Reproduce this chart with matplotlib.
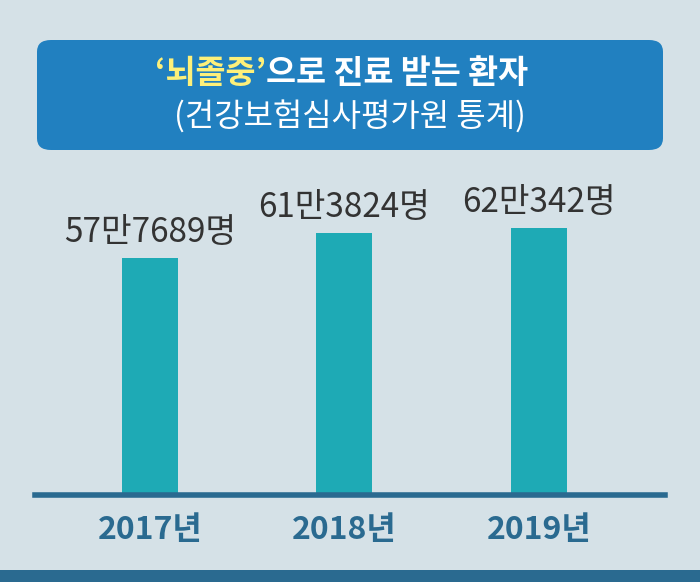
import matplotlib.pyplot as plt
from matplotlib.patches import FancyBboxPatch, Rectangle

plt.rcParams['font.family'] = ['Noto Sans CJK KR', 'DejaVu Sans']

years = ['2017년', '2018년', '2019년']
patients = [577689, 613824, 620342]
labels = ['57만7689명', '61만3824명', '62만342명']

W, H = 700, 582
fig = plt.figure(figsize=(7, 5.82), dpi=100)
fig.patch.set_facecolor('#d5e1e7')

# title box
fig.patches.append(FancyBboxPatch((37 / W, 1 - 150 / H), 626 / W, 110 / H,
                                  boxstyle='round,pad=0,rounding_size=0.02',
                                  transform=fig.transFigure, fc='#2180c0', ec='none'))
fig.text(266 / W, 1 - 73 / H, '‘뇌졸중’', color='#fdf07a', fontsize=23.5,
         fontweight='bold', ha='right', va='center')
fig.text(266 / W, 1 - 73 / H, '으로 진료 받는 환자', color='white', fontsize=23.5,
         fontweight='bold', ha='left', va='center')
fig.text(0.5, 1 - 117 / H, '(건강보험심사평가원 통계)', color='white', fontsize=23,
         ha='center', va='center')

# bottom strip
fig.patches.append(Rectangle((0, 0), 1, 12 / H, transform=fig.transFigure,
                             fc='#2a6a90', ec='none'))

ax = fig.add_axes([35 / W, (H - 495) / H, 630 / W, 335 / H])
ax.set_facecolor('none')
x = list(range(len(years)))
ax.bar(x, patients, width=0.288, color='#1eaab5')
ax.set_xlim(-0.591, 2.648)
ax.set_ylim(235189, 719289)
for xi, v, lab in zip(x, patients, labels):
    ax.text(xi, v + 12000, lab, ha='center', va='bottom', fontsize=24, color='#333333')
for s in ['top', 'right', 'left']:
    ax.spines[s].set_visible(False)
ax.spines['bottom'].set_color('#2a6a90')
ax.spines['bottom'].set_linewidth(4)
ax.set_yticks([])
ax.set_xticks(x)
ax.set_xticklabels(years, fontsize=23, fontweight='bold', color='#2a6a90')
ax.tick_params(axis='x', length=0, pad=14)

fig.savefig('out.png', dpi=100)
